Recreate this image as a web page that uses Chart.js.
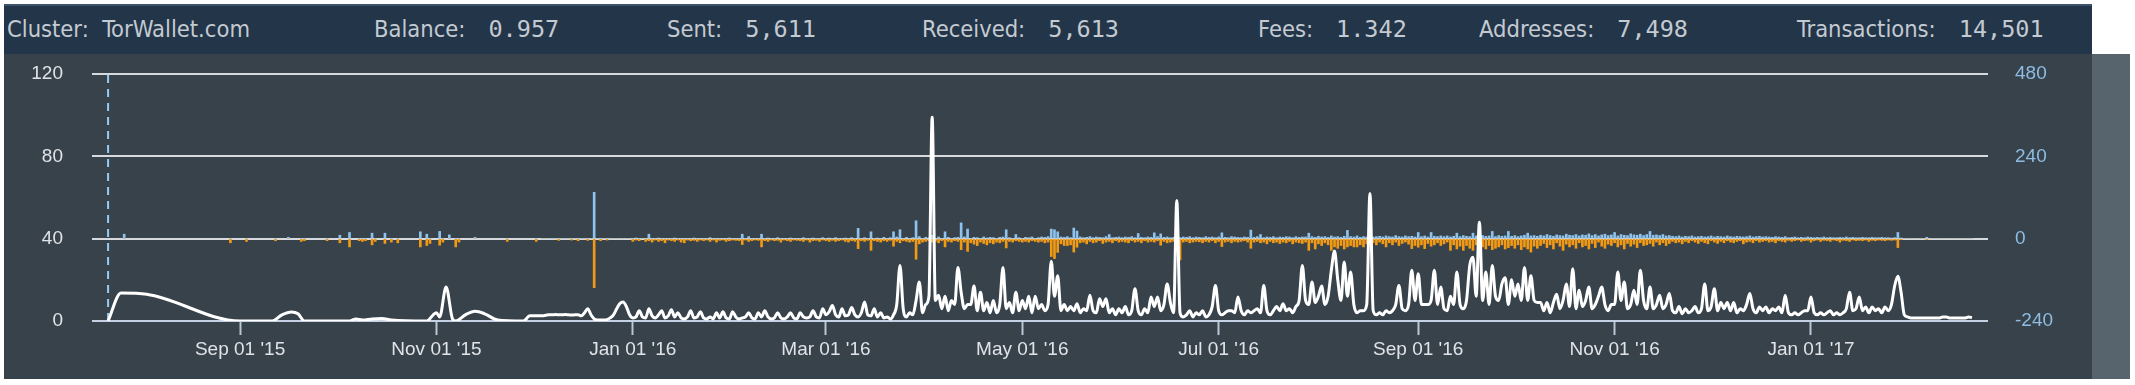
<!DOCTYPE html>
<html>
<head>
<meta charset="utf-8">
<script src="https://cdn.jsdelivr.net/npm/chart.js@4.4.0/dist/chart.umd.min.js"></script>
<style>
  body { margin: 0; background: #fff; width: 2135px; height: 385px; position: relative; overflow: hidden; }
  #header { position: absolute; left: 4px; top: 4px; width: 2088px; height: 50px; background: #233548; border-top: 2px solid #3e5368; box-sizing: border-box; }
  #header span { position: absolute; top: 10px; line-height: 27px; font-family: "DejaVu Sans Condensed", "DejaVu Sans"; font-stretch: condensed; font-size: 23.5px; color: #c3cad2; white-space: pre; }
  #header b { font-weight: normal; font-family: "DejaVu Sans Mono"; margin-left: 23px; }
  #panel { position: absolute; left: 4px; top: 54px; width: 2088px; height: 325px; background: #37424b; }
  #strip { position: absolute; left: 2092px; top: 54px; width: 38px; height: 325px; background: #57646e; }
  #chart { position: absolute; left: 4px; top: 54px; }
</style>
</head>
<body>
<div id="header">
  <span style="left:3px">Cluster:  TorWallet.com</span>
  <span style="left:370px">Balance:<b>0.957</b></span>
  <span style="left:663px">Sent:<b>5,611</b></span>
  <span style="left:918px">Received:<b>5,613</b></span>
  <span style="left:1254px">Fees:<b>1.342</b></span>
  <span style="left:1475px">Addresses:<b>7,498</b></span>
  <span style="left:1793px">Transactions:<b>14,501</b></span>
</div>
<div id="panel"></div>
<div id="strip"></div>
<canvas id="chart" width="2088" height="325"></canvas>
<script>
// x axis is days since 2015-07-17
const tickDays = [46, 107, 168, 228, 289, 350, 412, 473, 534];
const tickLabels = ["Sep 01 '15", "Nov 01 '15", "Jan 01 '16", "Mar 01 '16", "May 01 '16",
    "Jul 01 '16", "Sep 01 '16", "Nov 01 '16", "Jan 01 '17"];
const firstDay = 5;

// transactions per day (left axis) - sparse at the start, then daily
const txEarlyDays = [5, 9, 17, 46, 56, 59, 62, 64, 66, 80, 82, 84, 87, 90, 93, 104, 106, 107, 108, 110, 112, 113, 116, 119, 122, 126, 134, 136];
const txEarlyVals = [0, 13.6, 13, 0, 0, 3, 4.4, 3.5, 0, 0, 1, 0.5, 1, 1.2, 0.5, 0, 3, 4, 2, 16.5, 1, 0, 3, 4.7, 3.5, 0.5, 0, 2.5];
const txDailyStart = 140;
const txDaily = [
    2.6, 2.8, 3, 3, 3.1, 3, 3, 3.1, 3, 2.9,
    3, 3, 2.5, 4, 6, 3, 1, 0.5, 0.5, 0.5,
    0.7, 1.5, 3, 6, 8.5, 9.2, 7, 3, 1.5, 2,
    5, 2, 1.5, 6, 2.5, 1.5, 3, 5, 1.5, 2.5,
    5.5, 2, 4, 1.5, 1, 2, 5, 1.5, 2, 4.5,
    1.5, 1, 2, 1, 4, 1.5, 4.5, 1.5, 1, 4.5,
    2, 1, 1.5, 2, 4, 1.5, 1, 4, 2, 5,
    2, 1, 1.5, 4, 1.5, 1, 2, 4, 1.5, 1,
    4, 2, 1.5, 2, 5, 2, 1.5, 6, 3, 4.5,
    7.5, 3, 2, 6, 2.5, 3, 6.5, 3, 2, 4,
    9.2, 3, 2.5, 6, 2, 4, 1.5, 2, 1, 3,
    8, 27, 6, 2, 4, 3, 10, 19, 4, 8,
    12, 99, 10, 12.5, 6, 12, 5, 10, 8, 26,
    14, 6, 8, 8, 17, 5, 14, 5, 9, 4,
    10, 4, 8, 26, 6, 9, 4, 14, 5, 10,
    6, 12, 4, 12, 6, 8, 5, 8, 29, 12,
    22, 5, 8, 5, 7, 5, 8.4, 4, 6, 5,
    12.5, 5, 4, 10.8, 7, 10.8, 4, 6, 3, 6,
    4, 7, 3, 5, 15.7, 5, 3, 6, 4, 11.7,
    7, 11.7, 5, 8, 18, 9, 4, 58.6, 4, 2,
    3, 5, 2, 4, 3, 5, 2, 3, 7, 17.3,
    5, 3, 4, 5, 5, 4, 11.7, 5, 3, 5,
    4, 5, 6, 4, 17.3, 5, 3, 5, 7, 5,
    8.4, 5, 6, 4, 7, 10, 27, 10, 8, 19,
    9, 12, 17, 8, 12, 24.6, 34, 20, 10, 28.7,
    12, 23.8, 8, 4, 5, 5, 8, 62, 5, 3,
    4, 3, 5, 4, 5, 8, 17.3, 6, 5, 8,
    24.6, 10, 23, 8, 8, 8, 10, 24.6, 8, 16.5,
    6, 5, 12, 8, 23.8, 8, 6, 10, 27, 31,
    12, 48, 10, 23.8, 8, 27, 12, 10, 18, 21,
    8, 20, 12, 18, 10, 26, 10, 22, 10, 9,
    9, 5, 9, 4, 9, 13, 6, 10, 18, 7,
    25.4, 6, 15, 7, 10, 16.5, 6, 8, 12, 16.5,
    8, 5, 8, 8, 23.8, 10, 19, 6, 8, 15,
    8, 24.6, 10, 6, 16.5, 6, 8, 12.5, 6, 8,
    13.3, 5, 4, 7, 3.5, 6, 4, 5, 7, 4,
    6, 18, 5, 7, 15.7, 5, 9, 6, 9, 5,
    9, 4, 6, 5, 8, 13.3, 6, 4, 6.8, 5,
    6.8, 4, 6, 5, 6.8, 4, 12.5, 4, 3, 4,
    3, 4, 5, 5, 11.7, 4, 3, 4, 3, 4,
    5, 3, 4, 3, 4, 6, 14, 5, 6, 11.7,
    5, 6.8, 4, 6.8, 5, 6, 4, 6.8, 5, 8,
    17, 21.7, 14, 3, 2, 1.5, 1.5, 1.5, 1.5, 1.5,
    1.5, 1.5, 1.5, 1.5, 1.5, 2, 2, 1.5, 1.5, 1.5,
    1.5, 1.5, 1.5, 2, 1.5
];

// received (up) and sent (down) per day, right axis
const flowEarlyDays = [10, 43, 48, 57, 61, 65, 66, 73, 77, 80, 83, 84, 85, 87, 88, 91, 93, 95, 102, 104, 105, 108, 109, 111, 113, 114, 119, 129, 138];
const receivedEarly = [13, 0, 0, 0, 4, 0, 0, 0, 10, 18, 0, 0, 0, 16, 0, 16, 0, 0, 20, 13, 0, 21, 0, 11, 0, 0, 4, 0, 0];
const sentEarly = [0, 12, 8, 6, 0, 8, 6, 6, 12, 24, 6, 8, 6, 18, 8, 14, 10, 12, 24, 20, 14, 19, 10, 0, 24, 10, 0, 8, 8];
const flowDailyStart = 140;
const receivedDaily = [
    0, 0, 0, 0, 0, 0, 0, 0, 0, 0,
    0, 0, 0, 0, 0, 0, 135, 0, 0, 0,
    0, 0, 0, 0, 0, 0, 0, 0, 0, 2,
    0, 0, 0, 13, 0, 0, 2, 0, 0, 0,
    0, 2, 0, 0, 0, 0, 0, 2, 0, 0,
    0, 0, 3, 0, 0, 0, 0, 0, 2, 0,
    0, 0, 13, 0, 6, 0, 0, 0, 13, 0,
    2, 0, 0, 3, 0, 0, 0, 2, 0, 0,
    0, 3, 0, 0, 2, 0, 0, 3, 0, 2,
    0, 3, 0, 0, 2, 0, 3, 0, 30, 0,
    3, 0, 20, 0, 2, 0, 4, 0, 3, 20,
    5, 26, 0, 4, 0, 3, 52, 6, 0, 4,
    3, 10, 0, 5, 0, 20, 4, 0, 3, 4,
    46, 5, 28, 0, 4, 3, 0, 5, 2, 4,
    3, 0, 4, 5, 26, 3, 0, 12, 3, 0,
    4, 3, 5, 0, 3, 5, 4, 6, 28, 26,
    20, 5, 4, 6, 3, 31, 22, 5, 3, 4,
    6, 3, 5, 4, 3, 6, 12, 3, 4, 5,
    3, 5, 4, 6, 3, 15, 4, 3, 5, 4,
    17, 6, 14, 4, 5, 3, 4, 6, 3, 5,
    4, 6, 3, 5, 4, 3, 6, 4, 5, 3,
    5, 17, 4, 3, 6, 5, 4, 3, 5, 4,
    25, 4, 6, 12, 3, 5, 4, 6, 3, 5,
    4, 6, 5, 3, 6, 4, 5, 5, 16, 6,
    4, 7, 5, 6, 4, 8, 5, 6, 4, 7,
    24, 6, 5, 8, 4, 6, 5, 7, 5, 6,
    7, 5, 8, 6, 5, 9, 6, 5, 8, 6,
    7, 5, 18, 6, 8, 5, 18, 7, 6, 8,
    6, 8, 5, 7, 16, 6, 9, 7, 6, 16,
    8, 6, 9, 7, 8, 21, 6, 9, 7, 8,
    21, 7, 9, 6, 8, 10, 16, 8, 9, 7,
    10, 8, 12, 9, 7, 11, 9, 8, 13, 10,
    9, 12, 8, 11, 10, 14, 9, 12, 8, 11,
    13, 9, 11, 18, 8, 12, 10, 9, 14, 11,
    10, 13, 9, 12, 21, 10, 11, 9, 12, 8,
    9, 7, 6, 8, 5, 7, 6, 8, 5, 6,
    7, 5, 6, 8, 5, 7, 6, 5, 8, 6,
    5, 7, 6, 5, 6, 8, 5, 6, 7, 5,
    6, 5, 4, 6, 5, 4, 6, 3, 4, 5,
    3, 4, 3, 5, 4, 3, 4, 3, 5, 3,
    4, 3, 3, 4, 3, 5, 3, 4, 3, 3,
    4, 3, 3, 4, 3, 3, 4, 3, 3, 2,
    3, 18, 2, 0, 0, 0, 0, 0, 0, 0,
    4, 0, 0, 0, 0, 0, 0, 0, 0, 0,
    0, 0, 0, 0, 0
];
const sentDaily = [
    0, 0, 0, 0, 0, 5, 0, 0, 0, 4,
    0, 6, 0, 0, 5, 0, 143, 0, 6, 0,
    4, 0, 0, 0, 0, 0, 0, 0, 8, 4,
    6, 0, 8, 6, 10, 4, 8, 6, 12, 4,
    6, 8, 4, 10, 12, 4, 6, 5, 8, 4,
    6, 4, 8, 4, 10, 5, 4, 8, 6, 4,
    5, 6, 17, 4, 8, 6, 4, 5, 24, 6,
    8, 4, 6, 5, 10, 4, 6, 8, 4, 5,
    6, 8, 4, 10, 6, 5, 8, 4, 6, 8,
    5, 8, 6, 4, 8, 10, 6, 8, 29, 6,
    8, 5, 34, 6, 8, 10, 6, 8, 5, 22,
    8, 12, 6, 8, 10, 8, 60, 15, 10, 8,
    6, 10, 8, 12, 6, 24, 8, 10, 6, 8,
    32, 10, 37, 12, 16, 20, 10, 14, 18, 12,
    15, 10, 12, 8, 27, 8, 10, 6, 8, 10,
    8, 10, 6, 8, 10, 8, 12, 10, 52, 58,
    40, 15, 20, 20, 18, 39, 25, 12, 10, 15,
    8, 12, 10, 6, 14, 10, 8, 12, 6, 10,
    8, 10, 12, 6, 10, 8, 12, 6, 10, 8,
    10, 6, 19, 8, 12, 10, 8, 6, 62, 10,
    8, 12, 10, 8, 9, 12, 8, 10, 6, 12,
    8, 23, 10, 8, 12, 8, 10, 8, 6, 10,
    28, 10, 8, 12, 10, 15, 8, 12, 10, 14,
    10, 12, 8, 15, 10, 12, 14, 10, 34, 12,
    30, 15, 20, 12, 18, 34, 24, 28, 20, 30,
    24, 20, 24, 24, 18, 24, 15, 20, 12, 18,
    10, 15, 24, 12, 18, 10, 20, 14, 10, 16,
    29, 20, 25, 18, 29, 14, 22, 18, 12, 20,
    15, 10, 34, 18, 30, 22, 34, 20, 28, 34,
    18, 26, 24, 30, 20, 32, 28, 24, 18, 30,
    26, 20, 28, 18, 32, 24, 30, 39, 22, 28,
    20, 14, 26, 18, 30, 12, 22, 34, 16, 24,
    18, 28, 12, 24, 20, 30, 14, 26, 10, 22,
    28, 16, 20, 12, 24, 18, 30, 14, 22, 16,
    26, 12, 20, 18, 14, 22, 10, 18, 12, 20,
    14, 8, 12, 10, 15, 8, 12, 6, 10, 14,
    8, 12, 15, 6, 10, 14, 8, 12, 6, 10,
    12, 8, 6, 15, 10, 8, 12, 6, 10, 8,
    6, 10, 8, 12, 6, 8, 10, 5, 8, 6,
    4, 8, 6, 5, 10, 6, 4, 8, 5, 6,
    8, 4, 6, 10, 5, 6, 8, 4, 6, 5,
    6, 4, 8, 5, 6, 4, 5, 6, 4, 5,
    4, 26, 3, 0, 0, 0, 0, 0, 0, 0,
    3, 0, 0, 0, 0, 0, 0, 0, 0, 0,
    0, 0, 0, 0, 0
];

const labelFont = { family: 'Liberation Sans', size: 19 };

const txPoints = txEarlyDays.map((d, i) => ({ x: d, y: txEarlyVals[i] }))
    .concat(txDaily.map((v, i) => ({ x: txDailyStart + i, y: v })));
const receivedPoints = flowEarlyDays.map((d, i) => ({ x: d, y: receivedEarly[i] }))
    .concat(receivedDaily.map((v, i) => ({ x: flowDailyStart + i, y: v })));
const sentPoints = flowEarlyDays.map((d, i) => ({ x: d, y: -sentEarly[i] }))
    .concat(sentDaily.map((v, i) => ({ x: flowDailyStart + i, y: -v })));

// tick padding would otherwise push the plot area down
const noVerticalPadding = (scale) => { scale.paddingTop = 0; scale.paddingBottom = 0; };

new Chart(document.getElementById('chart'), {
    type: 'bar',
    data: {
        datasets: [{
            type: 'line',
            label: 'Transactions',
            data: txPoints,
            yAxisID: 'y',
            borderColor: '#ffffff',
            borderWidth: 3,
            pointRadius: 0,
            cubicInterpolationMode: 'monotone',
            order: 0
        }, {
            type: 'line',
            label: 'First seen',
            data: [{ x: firstDay, y: 0 }, { x: firstDay, y: 120 }],
            yAxisID: 'y',
            borderColor: '#96cbf3',
            borderWidth: 2,
            borderDash: [8, 6],
            pointRadius: 0,
            order: 1
        }, {
            label: 'Received',
            data: receivedPoints,
            yAxisID: 'y2',
            backgroundColor: '#8ec3ee',
            barThickness: 2,
            grouped: false,
            order: 2
        }, {
            label: 'Sent',
            data: sentPoints,
            yAxisID: 'y2',
            backgroundColor: '#f39a14',
            barThickness: 2,
            grouped: false,
            order: 2
        }]
    },
    options: {
        responsive: false,
        animation: false,
        devicePixelRatio: 1,
        layout: { padding: { top: 20, left: 0, right: 0, bottom: 0 } },
        plugins: { legend: { display: false }, tooltip: { enabled: false } },
        scales: {
            x: {
                type: 'linear',
                min: 0,
                max: 589,
                offset: false,
                border: { display: false },
                grid: { drawOnChartArea: false, offset: false, tickLength: 14, tickWidth: 2, tickColor: '#b9c6d6' },
                ticks: {
                    color: '#e0e3e7',
                    font: labelFont,
                    padding: 3,
                    maxRotation: 0,
                    autoSkip: false,
                    callback: (v) => tickLabels[tickDays.indexOf(v)]
                },
                afterBuildTicks: (scale) => { scale.ticks = tickDays.map(v => ({ value: v })); },
                afterFit: (scale) => { scale.height = 58; }
            },
            y: {
                position: 'left',
                min: 0,
                max: 120,
                border: { display: false },
                grid: {
                    drawTicks: false,
                    lineWidth: 2,
                    color: (ctx) => ctx.tick && ctx.tick.value === 0 ? '#c4d1e4' : '#d6dadf'
                },
                ticks: { stepSize: 40, color: '#e0e3e7', font: labelFont, padding: 29 },
                afterFit: (scale) => { scale.width = 88; noVerticalPadding(scale); }
            },
            y2: {
                position: 'right',
                min: -240,
                max: 480,
                border: { display: false },
                grid: { drawOnChartArea: false, drawTicks: false },
                ticks: { stepSize: 240, color: '#8ebce3', font: labelFont, padding: 27 },
                afterFit: (scale) => { scale.width = 104; noVerticalPadding(scale); }
            }
        }
    }
});
</script>
</body>
</html>
